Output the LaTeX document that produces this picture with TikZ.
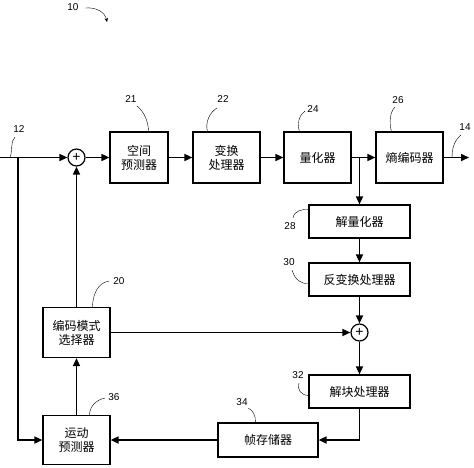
\documentclass[tikz,border=0pt]{standalone}
\usepackage{fontspec}
\setmainfont{Liberation Sans}
\newfontfamily\cjk{Noto Sans CJK SC}
\usetikzlibrary{arrows.meta}
\tikzset{box/.style={draw,line width=1.2pt,align=center,inner sep=0pt,font=\cjk\fontsize{12}{14}\selectfont}}
\tikzset{sum/.style={draw,circle,line width=1.2pt,minimum size=17pt,inner sep=0pt,font=\fontsize{14}{14}\selectfont}}
\tikzset{l/.style={font=\fontsize{10}{10}\selectfont}}
\tikzset{ld/.style={line width=0.4pt}}
\tikzset{sig/.style={line width=1.6pt,-{Triangle[length=8pt,width=7pt]}}}

\begin{document}
\begin{tikzpicture}[x=1pt,y=-1pt]
  \useasboundingbox (0,0) rectangle (474,467);
  % blocks
  \node[box,minimum width=58pt,minimum height=51pt] (sp) at (139,157.5) {空间\\预测器};
  \node[box,minimum width=67pt,minimum height=51pt] (tr) at (226.5,157.5) {变换\\处理器};
  \node[box,minimum width=67pt,minimum height=51pt] (qu) at (317.5,157.5) {量化器};
  \node[box,minimum width=67pt,minimum height=51pt] (en) at (409.5,157.5) {熵编码器};
  \node[box,minimum width=101pt,minimum height=33pt] (dq) at (359.5,221.5) {解量化器};
  \node[box,minimum width=101pt,minimum height=33pt] (it) at (359.5,279.5) {反变换处理器};
  \node[box,minimum width=101pt,minimum height=33pt] (db) at (359.5,391.5) {解块处理器};
  \node[box,minimum width=100pt,minimum height=34pt] (fs) at (268,440) {帧存储器};
  \node[box,minimum width=67pt,minimum height=49pt] (me) at (76.5,440) {运动\\预测器};
  \node[box,minimum width=67pt,minimum height=50pt] (ms) at (76.5,332.5) {编码模式\\选择器};
  \node[sum] (s1) at (76.5,157.5) {+};
  \node[sum] (s2) at (359.5,332.5) {+};
  \coordinate (in0) at (0,157.5);
  \coordinate (in1) at (18,157.5);
  \coordinate (br) at (359.5,157.5);
  \coordinate (out) at (469,157.5);
  % signal paths
  \draw[sig] (in0) -- (s1);
  \draw[sig] (s1) -- (sp);
  \draw[sig] (sp) -- (tr);
  \draw[sig] (tr) -- (qu);
  \draw[sig] (qu) -- (en);
  \draw[sig] (en) -- (out);
  \draw[sig] (br) -- (dq);
  \draw[sig] (dq) -- (it);
  \draw[sig] (it) -- (s2);
  \draw[sig] (s2) -- (db);
  \draw[sig] (db.south) |- (fs.east);
  \draw[sig] (fs) -- (me);
  \draw[sig] (me) -- (ms);
  \draw[sig] (ms) -- (s1);
  \draw[sig] (ms) -- (s2);
  \draw[sig] (in1) |- (me.west);
  % reference numerals
  \node[l] (n10) at (73,7) {10};
  \draw[ld,-{Stealth[length=4pt,width=3.5pt]}] (n10.east) ++(3,1) .. controls (96,7) and (105,12) .. (107,22);
  \node[l] (n12) at (19,129) {12};
  \draw[ld] (10,157.5) .. controls (13,150) and (10,142) .. (15,137);
  \node[l] (n21) at (131,99) {21};
  \draw[ld] (sp.north east) ++(-20,0) .. controls (148,120) and (144,112) .. (137,106);
  \node[l] (n22) at (223,99) {22};
  \draw[ld] (tr.north west) ++(15,0) .. controls (205,122) and (210,112) .. (217,108);
  \node[l] (n24) at (313,109) {24};
  \draw[ld] (qu.north west) ++(16,0) .. controls (297,124) and (299,115) .. (305,111);
  \node[l] (n26) at (398,100) {26};
  \draw[ld] (en.north west) ++(16,0) .. controls (389,122) and (390,112) .. (395,107);
  \node[l] (n14) at (465,127) {14};
  \draw[ld] (452,157.5) .. controls (452,147) and (455,140) .. (461,135);
  \node[l] (n28) at (290,226) {28};
  \draw[ld] (dq.north west) ++(0,5) .. controls (302,209) and (294,211) .. (293,218);
  \node[l] (n30) at (289,262) {30};
  \draw[ld] (it.west) ++(0,4) .. controls (301,284) and (295,280) .. (292,270);
  \node[l] (n32) at (298,375) {32};
  \draw[ld] (db.west) ++(0,4) .. controls (301,395) and (297,390) .. (299,383);
  \node[l] (n34) at (242,402) {34};
  \draw[ld] (fs.north west) ++(38,0) .. controls (256,416) and (253,410) .. (248,408);
  \node[l] (n36) at (114,397) {36};
  \draw[ld] (me.north west) ++(47,0) .. controls (90,406) and (96,400) .. (105,398);
  \node[l] (n20) at (119,281) {20};
  \draw[ld] (ms.north west) ++(50,0) .. controls (93,295) and (97,283) .. (109,281);
\end{tikzpicture}
\end{document}
